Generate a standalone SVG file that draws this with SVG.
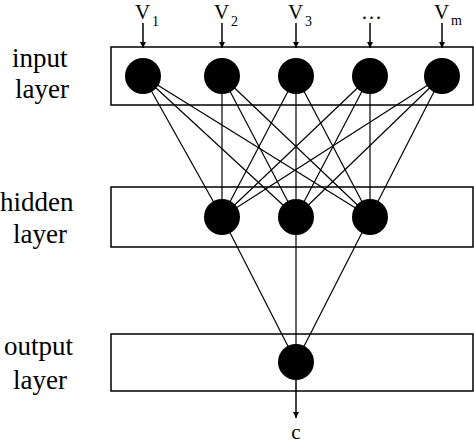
<svg xmlns="http://www.w3.org/2000/svg" width="474" height="444" viewBox="0 0 474 444">
<style>
.box{fill:#fff;stroke:#000;stroke-width:1.5}
.node{fill:#000}
.lbl{font-family:"Liberation Serif",serif;font-size:27px;fill:#000}
.v{font-family:"Liberation Serif",serif;font-size:21px;fill:#000}
.sub{font-family:"Liberation Serif",serif;font-size:14px;fill:#000}
.e{stroke:#000;stroke-width:1.2;fill:none}
.a{stroke:#000;stroke-width:1.5;fill:none;marker-end:url(#ah)}
</style>
<defs>
<marker id="ah" viewBox="0 0 10 10" refX="10" refY="5" markerWidth="6" markerHeight="6" orient="auto" markerUnits="userSpaceOnUse">
<path d="M0,0 L10,5 L0,10 z" fill="#000"/>
</marker>
</defs>
<g id="input-layer">
<rect class="box" x="111" y="47" width="362" height="58"/>
<text class="lbl" x="12" y="67">input</text>
<text class="lbl" x="15" y="98">layer</text>
</g>
<g id="hidden-layer">
<rect class="box" x="111" y="187" width="362" height="60"/>
<text class="lbl" x="0" y="211">hidden</text>
<text class="lbl" x="13" y="243">layer</text>
</g>
<g id="output-layer">
<rect class="box" x="111" y="334" width="362" height="57"/>
<text class="lbl" x="4" y="355">output</text>
<text class="lbl" x="13" y="389">layer</text>
</g>
<g id="connectors">
<line class="e" x1="143" y1="76" x2="222" y2="217"/>
<line class="e" x1="143" y1="76" x2="296" y2="217"/>
<line class="e" x1="143" y1="76" x2="370" y2="217"/>
<line class="e" x1="222" y1="76" x2="222" y2="217"/>
<line class="e" x1="222" y1="76" x2="296" y2="217"/>
<line class="e" x1="222" y1="76" x2="370" y2="217"/>
<line class="e" x1="296" y1="76" x2="222" y2="217"/>
<line class="e" x1="296" y1="76" x2="296" y2="217"/>
<line class="e" x1="296" y1="76" x2="370" y2="217"/>
<line class="e" x1="370" y1="76" x2="222" y2="217"/>
<line class="e" x1="370" y1="76" x2="296" y2="217"/>
<line class="e" x1="370" y1="76" x2="370" y2="217"/>
<line class="e" x1="442" y1="76" x2="222" y2="217"/>
<line class="e" x1="442" y1="76" x2="296" y2="217"/>
<line class="e" x1="442" y1="76" x2="370" y2="217"/>
<line class="e" x1="222" y1="217" x2="296" y2="362"/>
<line class="e" x1="296" y1="217" x2="296" y2="362"/>
<line class="e" x1="370" y1="217" x2="296" y2="362"/>
<line class="a" x1="143" y1="23" x2="143" y2="48"/>
<line class="a" x1="222" y1="23" x2="222" y2="48"/>
<line class="a" x1="296" y1="23" x2="296" y2="48"/>
<line class="a" x1="370" y1="23" x2="370" y2="48"/>
<line class="a" x1="442" y1="23" x2="442" y2="48"/>
<line class="a" x1="296" y1="362" x2="296" y2="418"/>
</g>
<g id="in1"><circle class="node" cx="143" cy="76" r="18"/><text class="v" x="135" y="19">V</text><text class="sub" x="152" y="26">1</text></g>
<g id="in2"><circle class="node" cx="222" cy="76" r="18"/><text class="v" x="214" y="19">V</text><text class="sub" x="231" y="26">2</text></g>
<g id="in3"><circle class="node" cx="296" cy="76" r="18"/><text class="v" x="288" y="19">V</text><text class="sub" x="305" y="26">3</text></g>
<g id="in4"><circle class="node" cx="370" cy="76" r="18"/><text class="v" x="361" y="19">…</text></g>
<g id="in5"><circle class="node" cx="442" cy="76" r="18"/><text class="v" x="434" y="19">V</text><text class="sub" x="451" y="25">m</text></g>
<g id="h1"><circle class="node" cx="222" cy="217" r="18"/></g>
<g id="h2"><circle class="node" cx="296" cy="217" r="18"/></g>
<g id="h3"><circle class="node" cx="370" cy="217" r="18"/></g>
<g id="out"><circle class="node" cx="296" cy="362" r="18"/><text class="v" x="296" y="439" text-anchor="middle">c</text></g>
</svg>
